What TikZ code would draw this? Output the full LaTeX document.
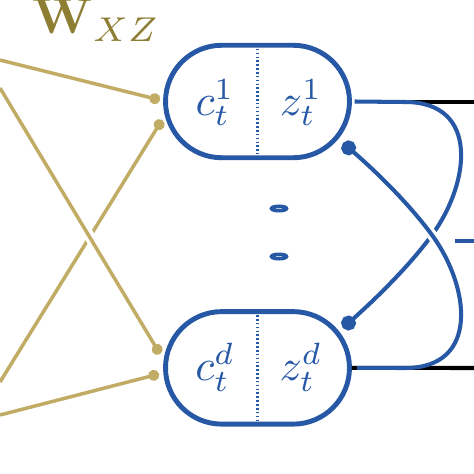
\documentclass[tikz,border=0pt]{standalone}
\usepackage{amsmath}
\usepackage{graphicx}
\usepackage{tikz}
\usetikzlibrary{arrows.meta}
\usetikzlibrary{positioning}
\usetikzlibrary{shapes.misc}
\usetikzlibrary{shapes.geometric}
\definecolor{unitblue}{RGB}{38,88,166}
\definecolor{wgold}{RGB}{192,172,100}
\definecolor{wtext}{RGB}{142,126,52}
\tikzstyle{unit} = [rounded rectangle, draw=unitblue, line width=2.8pt, minimum width=3.68cm, minimum height=2.25cm, inner sep=0pt]
\tikzstyle{var} = [text=unitblue, anchor=base, inner sep=0pt]
\tikzstyle{divider} = [unitblue, line width=1.3pt, dash pattern=on 0.9pt off 1.3pt, shorten <=0.12cm, shorten >=0.12cm]
\tikzstyle{vdot} = [ellipse, draw=unitblue, line width=2pt, minimum width=0.3cm, minimum height=0.09cm, inner sep=0pt]
\tikzstyle{wline} = [wgold, line width=2pt, -{Circle[length=6.2pt]}]
\tikzstyle{recur} = [unitblue, line width=2.3pt]
\tikzstyle{readout} = [black, line width=2.3pt]
\tikzstyle{overgap} = [white, line width=6pt]

\begin{document}
\begin{tikzpicture}[x=0.02cm, y=-0.02cm]

  \useasboundingbox (0,0) rectangle (474,474);
  \clip (0,0) rectangle (474,474);

  % the two units
  \node[unit] (top) at (257.5,101.5) {};
  \node[unit, below=2.98cm of top] (bot) {};
  \draw[divider] (top.north) -- (top.south);
  \draw[divider] (bot.north) -- (bot.south);
  \node[var] (c1) at ([xshift=-0.85cm, yshift=-0.27cm]top.center) {\scalebox{2.5}{$c_t^1$}};
  \node[var] (z1) at ([xshift=0.87cm, yshift=-0.27cm]top.center) {\scalebox{2.5}{$z_t^1$}};
  \node[var] (cd) at ([xshift=-0.85cm, yshift=-0.25cm]bot.center) {\scalebox{2.5}{$c_t^d$}};
  \node[var] (zd) at ([xshift=0.87cm, yshift=-0.25cm]bot.center) {\scalebox{2.5}{$z_t^d$}};

  % vertical dots
  \node[vdot] (e1) at (279,208.5) {};
  \node[vdot, below=0.8cm of e1] (e2) {};

  % input weights
  \node[anchor=base west, text=wtext, inner sep=0pt] (wlab) at (32,33) {\scalebox{2.5}{$\scalebox{1.15}{$\mathbf{W}$}_{\scalebox{1.12}{$\scriptstyle XZ$}}$}};
  \coordinate (xa) at (0,60);
  \coordinate (xb) at (0,382);
  \coordinate (xc) at (0,88);
  \coordinate (xd) at (0,415);
  \coordinate (ca1) at (160,100);
  \coordinate (cb1) at (162,120);
  \coordinate (cad) at (160,354);
  \coordinate (cbd) at (159,374);
  \coordinate (gx) at (90,237);
  \draw[wline] (xa) -- (ca1);
  \draw[wline] (xb) -- (cb1);
  \draw[overgap] ([shift={(-5,-9)}]gx) -- ([shift={(5,9)}]gx);
  \draw[wline] (xc) -- (cad);
  \draw[wline] (xd) -- (cbd);

  % outputs and recurrent links
  \coordinate (split1) at (405,102);
  \coordinate (split2) at (405,368);
  \coordinate (hout1) at (474,102);
  \coordinate (houtd) at (474,368);
  \coordinate (zdot1) at (343,143);
  \coordinate (zdotd) at (343,328);
  \coordinate (bx) at (432,235);
  \coordinate (mida) at (455,241);
  \coordinate (midb) at (474,241);
  \draw[readout] (split1) -- (hout1);
  \draw[readout] (bot.east) -- (houtd);
  \draw[recur, -{Circle[length=8.5pt]}] ([xshift=1.5pt]top.east) -- (split1) .. controls (480,102) and (470,183) .. (bx) .. controls (407,269) and (372,302) .. (zdotd);
  \draw[overgap] ([shift={(-6,-8)}]bx) -- ([shift={(6,8)}]bx);
  \draw[recur, {Circle[length=8.5pt]}-] (zdot1) .. controls (372,168) and (407,201) .. (bx) .. controls (470,287) and (480,368) .. (split2) -- ([xshift=3pt]bot.east);
  \draw[recur] (mida) -- (midb);

\end{tikzpicture}
\end{document}
